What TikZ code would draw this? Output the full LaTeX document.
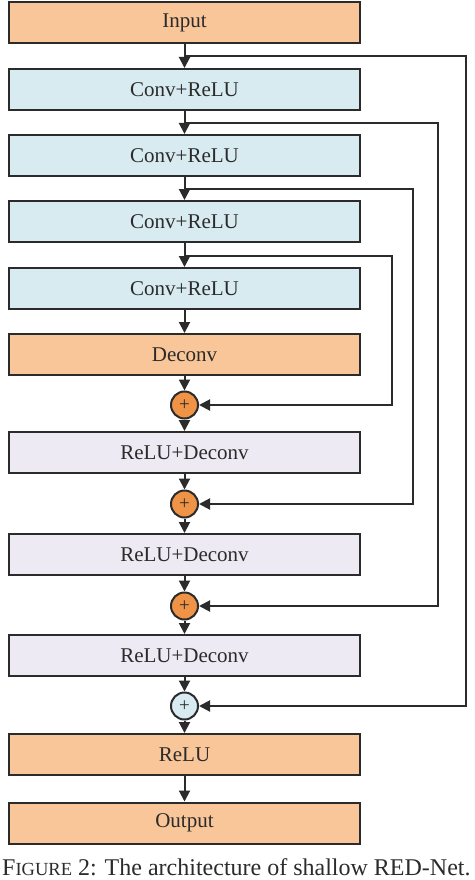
\documentclass[tikz,border=0pt]{standalone}
\usepackage{fontspec}
\setmainfont{Liberation Serif}
\usetikzlibrary{arrows.meta}
\definecolor{boxorange}{HTML}{F8C699}
\definecolor{boxblue}{HTML}{D8EBF1}
\definecolor{boxlav}{HTML}{EEEAF3}
\definecolor{circorange}{HTML}{EF9346}
\definecolor{linecol}{HTML}{2B2B2B}
\tikzset{
  blk/.style={draw=linecol, line width=2pt, minimum width=351pt, minimum height=41pt, inner sep=0pt,
    font=\fontsize{21}{22}\selectfont, text=linecol},
  inbox/.style={blk, fill=boxorange},
  convbox/.style={blk, fill=boxblue},
  decbox/.style={blk, fill=boxlav},
  addc/.style={draw=linecol, line width=2pt, circle, minimum size=27pt, inner sep=0pt,
    font=\fontsize{19}{19}\selectfont, text=linecol},
  arr/.style={draw=linecol, line width=2pt, -{Triangle[width=11pt,length=11pt]}},
}
\begin{document}
\begin{tikzpicture}[x=1pt,y=-1pt]
\useasboundingbox (0,0) rectangle (474,880);
\node[inbox]   (in)  at (184.5,22.5) {Input};
\node[convbox] (c1)  at (184.5,89.5) {Conv+ReLU};
\node[convbox] (c2)  at (184.5,155.5) {Conv+ReLU};
\node[convbox] (c3)  at (184.5,221.5) {Conv+ReLU};
\node[convbox] (c4)  at (184.5,288.5) {Conv+ReLU};
\node[inbox]   (dc)  at (184.5,354.5) {Deconv};
\node[addc, fill=circorange] (a1) at (184.5,405) {+};
\node[decbox]  (d1)  at (184.5,452.5) {ReLU+Deconv};
\node[addc, fill=circorange] (a2) at (184.5,504) {+};
\node[decbox]  (d2)  at (184.5,554.5) {ReLU+Deconv};
\node[addc, fill=circorange] (a3) at (184.5,606) {+};
\node[decbox]  (d3)  at (184.5,655.5) {ReLU+Deconv};
\node[addc, fill=boxblue] (a4) at (184.5,706) {+};
\node[inbox]   (re)  at (184.5,754.5) {ReLU};
\node[inbox]   (out) at (184.5,823) {Output};
\node[anchor=base west, inner sep=0pt, font=\fontsize{24}{25}\selectfont, text=linecol] (cap) at (2,875)
  {F{\fontsize{18.5}{19}\selectfont IGURE} 2: The architecture of shallow RED-Net.};
% main chain
\draw[arr] (in) -- (c1);
\draw[arr] (c1) -- (c2);
\draw[arr] (c2) -- (c3);
\draw[arr] (c3) -- (c4);
\draw[arr] (c4) -- (dc);
\draw[arr] (dc) -- (a1);
\draw[arr] (a1) -- (d1);
\draw[arr] (d1) -- (a2);
\draw[arr] (a2) -- (d2);
\draw[arr] (d2) -- (a3);
\draw[arr] (a3) -- (d3);
\draw[arr] (d3) -- (a4);
\draw[arr] (a4) -- (re);
\draw[arr] (re) -- (out);
% skip connections
\coordinate (j1) at (184.5,56.5);
\coordinate (j2) at (184.5,123.5);
\coordinate (j3) at (184.5,189);
\coordinate (j4) at (184.5,255.5);
\draw[arr] (j1) -- (466,56.5) |- (a4);
\draw[arr] (j2) -- (437.5,123.5) |- (a3);
\draw[arr] (j3) -- (413,189) |- (a2);
\draw[arr] (j4) -- (391.5,255.5) |- (a1);
\end{tikzpicture}
\end{document}
